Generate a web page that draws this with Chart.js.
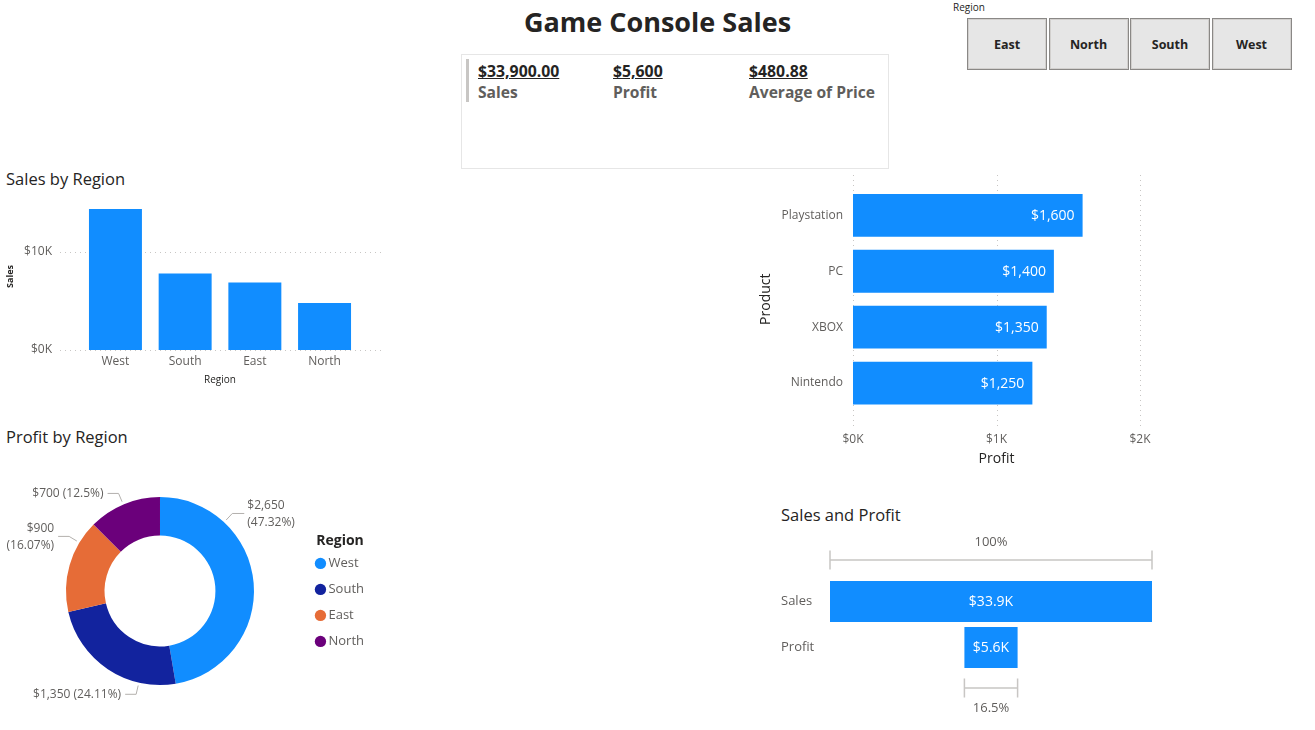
<!DOCTYPE html>
<html><head><meta charset="utf-8">
<script src="https://cdn.jsdelivr.net/npm/chart.js@4/dist/chart.umd.min.js"></script>
<style>
html,body{margin:0;padding:0;background:#fff;}
body{width:1315px;height:730px;position:relative;overflow:hidden;font-family:'Segoe UI','Open Sans',sans-serif;color:#252423;}
.abs{position:absolute;}
.title{position:absolute;font-size:16.5px;line-height:20px;color:#252423;white-space:nowrap;}
#main{left:0;width:1315px;top:4px;text-align:center;font-size:27px;font-weight:700;line-height:36px;}
#card{left:461px;top:54px;width:426px;height:113px;border:1px solid #E6E6E6;}
#accent{left:466px;top:59px;width:3px;height:43px;background:#C8C6C4;}
.kv{position:absolute;top:61px;font-size:15.8px;font-weight:700;line-height:20px;text-decoration:underline;color:#252423;white-space:nowrap;}
.kl{position:absolute;top:82px;font-size:15.6px;font-weight:700;line-height:20px;color:#605E5C;white-space:nowrap;}
#slLabel{left:953px;top:0px;font-size:10px;line-height:14px;color:#252423;}
#slicer{left:967px;top:18px;display:flex;gap:1.5px;}
.btn{width:78px;height:50px;background:#E6E6E6;border:1px solid #8A8886;box-shadow:inset 0 0 0 1px #D2D0CE;display:flex;align-items:center;justify-content:center;font-size:12.5px;font-weight:700;color:#252423;}
canvas{position:absolute;}
</style></head><body>
<div id="main" class="abs">Game Console Sales</div>
<div id="card" class="abs"></div>
<div id="accent" class="abs"></div>
<div id="kpis"></div>
<div id="slLabel" class="abs">Region</div>
<div id="slicer" class="abs"></div>
<div class="title" style="left:6px;top:169px;">Sales by Region</div>
<div class="title" style="left:6px;top:427px;">Profit by Region</div>
<div class="title" style="left:781px;top:505px;">Sales and Profit</div>

<div class="abs" style="left:0;top:195px;width:390px;height:195px;"><canvas id="c1" width="390" height="195" style="left:0;top:0;width:390px;height:195px"></canvas></div>
<div class="abs" style="left:0;top:455px;width:400px;height:265px;"><canvas id="c2" width="400" height="265" style="left:0;top:0;width:400px;height:265px"></canvas></div>
<div class="abs" style="left:755px;top:170px;width:420px;height:300px;"><canvas id="c3" width="420" height="300" style="left:0;top:0;width:420px;height:300px"></canvas></div>
<div class="abs" style="left:775px;top:525px;width:400px;height:200px;"><canvas id="c4" width="400" height="200" style="left:0;top:0;width:400px;height:200px"></canvas></div>

<script>
// ---------------- DATA ----------------
const salesRegions = ['West', 'South', 'East', 'North'];
const salesByRegion = [14400, 7800, 6900, 4800];
const salesTickValues = [0, 10000];

const profitRegions = ['West', 'South', 'East', 'North'];
const profitByRegion = [2650, 1350, 900, 700];

const products = ['Playstation', 'PC', 'XBOX', 'Nintendo'];
const profitByProduct = [1600, 1400, 1350, 1250];
const profitTickValues = [0, 1000, 2000];

const funnelStages = ['Sales', 'Profit'];
const funnelValues = [33900, 5600];

const kpiLabels = ['Sales', 'Profit', 'Average of Price'];
const kpiValues = ['$33,900.00', '$5,600', '$480.88'];

const slicerItems = ['East', 'North', 'South', 'West'];

// ---------------- STYLE / LAYOUT ----------------
const BLUE = '#118DFF';
const regionColors = ['#118DFF', '#12239E', '#E66C37', '#6B007B'];
const kpiX = [478, 613, 749];
const donutLabelLayout = [
  { angle: -47, twoLines: true, run: 12 },
  { angle: 103, twoLines: false, run: 11 },
  { angle: -149, twoLines: true, run: 11 },
  { angle: -113, twoLines: false, run: 11 }
];
const FONT = "'Segoe UI','Open Sans',sans-serif";
Chart.defaults.font.family = FONT;
Chart.defaults.color = '#605E5C';
Chart.defaults.animation = false;

// KPI card + slicer
const kpis = document.getElementById('kpis');
kpiValues.forEach((v, i) => {
  const a = document.createElement('div'); a.className = 'kv'; a.style.left = kpiX[i] + 'px'; a.textContent = v; kpis.appendChild(a);
  const b = document.createElement('div'); b.className = 'kl'; b.style.left = kpiX[i] + 'px'; b.textContent = kpiLabels[i]; kpis.appendChild(b);
});
const sl = document.getElementById('slicer');
slicerItems.forEach(s => { const d = document.createElement('div'); d.className = 'btn'; d.textContent = s; sl.appendChild(d); });

const kFmt = v => '$' + (v / 1000) + 'K';
const money = v => '$' + v.toLocaleString('en-US');

// dotted grid lines extending beyond chart area
const dottedGrid = {
  id: 'dottedGrid',
  beforeDatasetsDraw(chart, args, o) {
    const { ctx, chartArea } = chart;
    const s = chart.scales[o.axis];
    ctx.save();
    ctx.strokeStyle = '#C8C6C4'; ctx.lineWidth = 1; ctx.setLineDash([1, 4]);
    s.ticks.forEach(t => {
      const p = Math.round(s.getPixelForValue(t.value)) + 0.5;
      ctx.beginPath();
      if (s.isHorizontal()) { ctx.moveTo(p, chartArea.top - o.extStart); ctx.lineTo(p, chartArea.bottom + o.extEnd); }
      else { ctx.moveTo(chartArea.left - o.extStart, p); ctx.lineTo(chartArea.right + o.extEnd, p); }
      ctx.stroke();
    });
    ctx.restore();
  }
};

const noGrid = { display: false, drawTicks: false };

// ---------- Chart 1: Sales by Region ----------
new Chart(document.getElementById('c1'), {
  type: 'bar',
  data: { labels: salesRegions, datasets: [{ data: salesByRegion, backgroundColor: BLUE, categoryPercentage: 1, barPercentage: 0.76 }] },
  plugins: [dottedGrid],
  options: {
    responsive: false,
    layout: { autoPadding: false, padding: { top: 8, right: 30.6, left: 0, bottom: 0 } },
    plugins: { legend: { display: false }, tooltip: { enabled: false }, dottedGrid: { axis: 'y', extStart: 20.6, extEnd: 22.6 } },
    scales: {
      x: {
        grid: noGrid, border: { display: false },
        ticks: { padding: 4, font: { size: 12 }, color: '#605E5C' },
        title: { display: true, text: 'Region', font: { size: 10 }, color: '#252423', padding: { top: 0, bottom: 4 } },
        afterFit: s => { s.height = 40; }
      },
      y: {
        min: 0, max: 15000,
        grid: noGrid, border: { display: false },
        afterBuildTicks: s => { s.ticks = salesTickValues.map(v => ({ value: v })); },
        ticks: { padding: 28.6, font: { size: 12 }, color: '#605E5C', callback: kFmt },
        title: { display: true, text: 'Sales', font: { size: 9, weight: 'bold' }, color: '#252423', padding: { top: 4.6, bottom: 0 } },
        afterFit: s => { s.width = 80.6; s.paddingTop = 0; s.paddingBottom = 0; }
      }
    }
  }
});

// ---------- Chart 2: Profit by Region (doughnut) ----------
const donutLabels = {
  id: 'donutLabels',
  afterDatasetsDraw(chart) {
    const { ctx } = chart;
    const meta = chart.getDatasetMeta(0);
    const data = chart.data.datasets[0].data;
    const total = data.reduce((a, b) => a + b, 0);
    ctx.save();
    ctx.font = '12px ' + FONT;
    ctx.fillStyle = '#605E5C';
    ctx.strokeStyle = '#B3B0AD';
    ctx.lineWidth = 1;
    meta.data.forEach((arc, i) => {
      const L = donutLabelLayout[i];
      const a = L.angle * Math.PI / 180;
      const r = arc.outerRadius;
      const cx = arc.x, cy = arc.y;
      const sx = cx + Math.cos(a) * (r + 3), sy = cy + Math.sin(a) * (r + 3);
      const ex = cx + Math.cos(a) * (r + 12), ey = cy + Math.sin(a) * (r + 12);
      const right = Math.cos(a) >= 0;
      const hx = ex + (right ? L.run : -L.run);
      ctx.beginPath(); ctx.moveTo(sx, sy); ctx.lineTo(ex, ey); ctx.lineTo(hx, ey); ctx.stroke();
      const pct = parseFloat((data[i] / total * 100).toFixed(2)) + '%';
      const tx = hx + (right ? 3 : -4);
      ctx.textAlign = right ? 'left' : 'right';
      ctx.textBaseline = 'middle';
      if (L.twoLines) {
        ctx.fillText(money(data[i]), tx, ey - 8);
        ctx.fillText('(' + pct + ')', tx, ey + 9);
      } else {
        ctx.fillText(money(data[i]) + ' (' + pct + ')', tx, ey);
      }
    });
    ctx.restore();
  }
};
new Chart(document.getElementById('c2'), {
  type: 'doughnut',
  data: { labels: profitRegions, datasets: [{ data: profitByRegion, backgroundColor: regionColors, borderWidth: 0 }] },
  plugins: [donutLabels],
  options: {
    responsive: false,
    cutout: '59%',
    layout: { padding: { top: 42, bottom: 35, left: 14, right: 26 } },
    plugins: {
      tooltip: { enabled: false },
      legend: {
        position: 'right',
        title: { display: true, text: 'Region', color: '#252423', font: { size: 14, weight: 'bold' }, padding: { top: 13, bottom: -7 } },
        labels: { usePointStyle: true, pointStyle: 'circle', boxWidth: 3, boxHeight: 8, padding: 13, font: { size: 13 }, color: '#605E5C' }
      }
    }
  }
});

// ---------- Chart 3: Profit by Product ----------
const barValueLabels = {
  id: 'barValueLabels',
  afterDatasetsDraw(chart) {
    const { ctx } = chart;
    const meta = chart.getDatasetMeta(0);
    const data = chart.data.datasets[0].data;
    ctx.save();
    ctx.font = '14px ' + FONT; ctx.fillStyle = '#FFFFFF';
    ctx.textAlign = 'right'; ctx.textBaseline = 'middle';
    meta.data.forEach((b, i) => ctx.fillText(money(data[i]), b.x - 8, b.y + 1));
    ctx.restore();
  }
};
new Chart(document.getElementById('c3'), {
  type: 'bar',
  data: { labels: products, datasets: [{ data: profitByProduct, backgroundColor: BLUE, categoryPercentage: 1, barPercentage: 0.765 }] },
  plugins: [dottedGrid, barValueLabels],
  options: {
    responsive: false,
    indexAxis: 'y',
    layout: { autoPadding: false, padding: { top: 17.4, right: 35, left: 0, bottom: 0 } },
    plugins: { legend: { display: false }, tooltip: { enabled: false }, dottedGrid: { axis: 'x', extStart: 12.4, extEnd: 17 } },
    scales: {
      x: {
        min: 0, max: 2000,
        grid: noGrid, border: { display: false },
        afterBuildTicks: s => { s.ticks = profitTickValues.map(v => ({ value: v })); },
        ticks: { padding: 21, font: { size: 12 }, color: '#605E5C', callback: kFmt },
        title: { display: true, text: 'Profit', font: { size: 14 }, color: '#252423', padding: { top: 0, bottom: 2.6 } },
        afterFit: s => { s.height = 59; }
      },
      y: {
        grid: noGrid, border: { display: false },
        ticks: { padding: 10, font: { size: 12 }, color: '#605E5C' },
        title: { display: true, text: 'Product', font: { size: 14 }, color: '#252423', padding: { top: 2.6, bottom: 0 } },
        afterFit: s => { s.width = 98; s.paddingTop = 0; s.paddingBottom = 0; }
      }
    }
  }
});

// ---------- Chart 4: Sales and Profit (funnel) ----------
const funnelMax = Math.max(...funnelValues);
const funnelData = funnelValues.map(v => [(funnelMax - v) / 2, (funnelMax + v) / 2]);
const funnelDecor = {
  id: 'funnelDecor',
  afterDatasetsDraw(chart) {
    const { ctx, chartArea } = chart;
    const meta = chart.getDatasetMeta(0);
    const x = chart.scales.x;
    ctx.save();
    ctx.font = '14px ' + FONT; ctx.fillStyle = '#FFFFFF';
    ctx.textAlign = 'center'; ctx.textBaseline = 'middle';
    meta.data.forEach((b, i) => {
      const v = funnelValues[i];
      ctx.fillText('$' + (v / 1000).toFixed(1) + 'K', (b.x + b.base) / 2, b.y + 1);
    });
    ctx.strokeStyle = '#C8C6C4'; ctx.lineWidth = 1.5;
    ctx.fillStyle = '#605E5C'; ctx.font = '13px ' + FONT;
    const bracket = (v, yLine, yText) => {
      const x0 = x.getPixelForValue((funnelMax - v) / 2), x1 = x.getPixelForValue((funnelMax + v) / 2);
      ctx.beginPath();
      ctx.moveTo(x0, yLine); ctx.lineTo(x1, yLine);
      ctx.moveTo(x0, yLine - 9.5); ctx.lineTo(x0, yLine + 9.5);
      ctx.moveTo(x1, yLine - 9.5); ctx.lineTo(x1, yLine + 9.5);
      ctx.stroke();
      const pct = parseFloat((v / funnelMax * 100).toFixed(1)) + '%';
      ctx.fillText(pct, (x0 + x1) / 2, yText);
    };
    bracket(funnelValues[0], chartArea.top - 18.5, chartArea.top - 36.5);
    const last = funnelValues[funnelValues.length - 1];
    bracket(last, chartArea.bottom + 17.5, chartArea.bottom + 37.5);
    ctx.restore();
  }
};
new Chart(document.getElementById('c4'), {
  type: 'bar',
  data: { labels: funnelStages, datasets: [{ data: funnelData, backgroundColor: BLUE, categoryPercentage: 1, barPercentage: 0.89 }] },
  plugins: [funnelDecor],
  options: {
    responsive: false,
    indexAxis: 'y',
    layout: { autoPadding: false, padding: { top: 53.5, bottom: 54.5, left: 6, right: 23 } },
    plugins: { legend: { display: false }, tooltip: { enabled: false } },
    scales: {
      x: { display: false, min: 0, max: funnelMax },
      y: {
        grid: noGrid, border: { display: false },
        ticks: { crossAlign: 'far', font: { size: 13 }, color: '#605E5C' },
        afterFit: s => { s.width = 49; s.paddingTop = 0; s.paddingBottom = 0; }
      }
    }
  }
});
</script>
</body></html>
